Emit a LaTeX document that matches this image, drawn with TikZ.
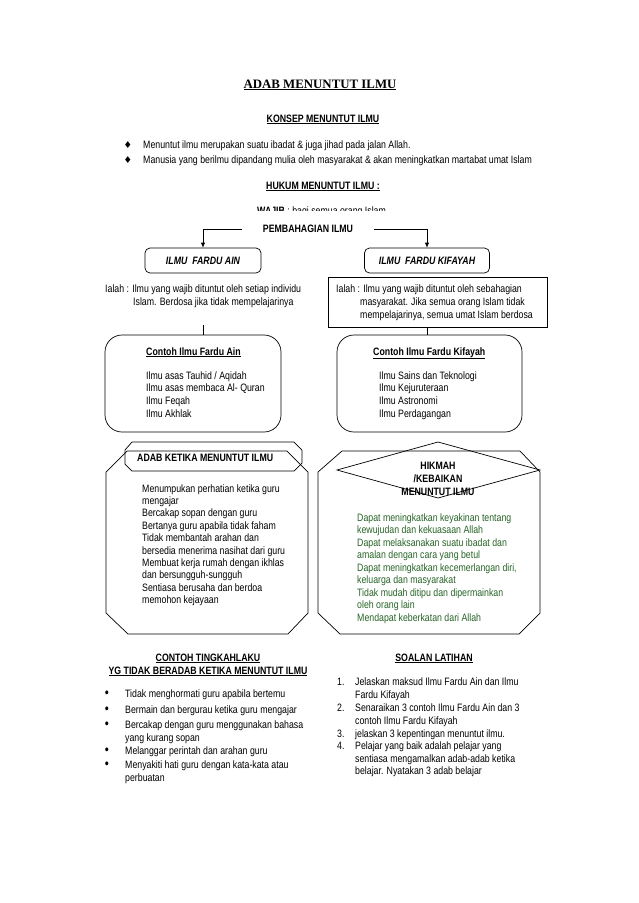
\documentclass[tikz,border=0pt]{standalone}
\usepackage{fontspec}
\setmainfont{Liberation Sans}[FakeStretch=0.82]
\newfontfamily\titlefont{Liberation Serif}
\newfontfamily\symfont{DejaVu Sans}
\usetikzlibrary{arrows.meta}
\definecolor{hgreen}{RGB}{40,100,40}
\begin{document}
\begin{tikzpicture}[x=1pt,y=-1pt,
  txt/.style={inner sep=0pt,anchor=base west,font=\fontsize{10.7}{12.6}\selectfont},
  ctxt/.style={txt,anchor=base},
  hd/.style={ctxt,font=\fontsize{10.7}{12.6}\selectfont\bfseries},
  ln/.style={line width=0.7pt,black},
  arr/.style={ln,-{Latex[length=5pt,width=4.5pt]}},
  rbox/.style={ln,draw,rounded corners=5pt,inner sep=0pt,font=\fontsize{10.7}{12.6}\selectfont\bfseries\itshape},
  cbox/.style={ln,draw,rounded corners=17pt,inner sep=0pt},
  gtxt/.style={txt,text=hgreen},
  dmd/.style={inner sep=0pt,font=\symfont\fontsize{9.5}{9.5}\selectfont},
  blt/.style={inner sep=0pt,anchor=base,font=\fontsize{14}{14}\selectfont}
]
\fill[white] (0,0) rectangle (638,903);
\useasboundingbox (0,0) rectangle (638,903);

% title
\node[inner sep=0pt,anchor=base,font=\titlefont\fontsize{12.86}{14}\selectfont\bfseries] (title) at (320,88) {\underline{ADAB MENUNTUT ILMU}};
\node[hd] (konsep) at (323,122) {\underline{KONSEP MENUNTUT ILMU}};
\node[dmd] (d1) at (128,145) {♦};
\node[txt] (b1) at (143,148) {Menuntut ilmu merupakan suatu ibadat \& juga jihad pada jalan Allah.};
\node[dmd] (d2) at (128,160) {♦};
\node[txt] (b2) at (143,163) {Manusia yang berilmu dipandang mulia oleh masyarakat \& akan meningkatkan martabat umat Islam};
\node[hd] (hukum) at (323,189) {\underline{HUKUM MENUNTUT ILMU :}};
\begin{scope}
\clip (200,195) rectangle (460,210.3);
\node[txt] (wajib) at (257,214) {\textbf{WAJIB} : bagi semua orang Islam};
\end{scope}

% pembahagian
\node[hd,anchor=center,inner xsep=21pt,inner ysep=0pt] (pemb) at (308,229) {PEMBAHAGIAN ILMU};
\node[rbox,minimum width=116pt,minimum height=25pt] (ain) at (203,260.5) {ILMU\ \ FARDU AIN};
\node[rbox,minimum width=125pt,minimum height=25pt] (kif) at (427,260.5) {ILMU\ \ FARDU KIFAYAH};
\draw[arr] (pemb.west) -| (ain.north);
\draw[arr] (pemb.east) -| (kif.north);

% definitions
\node[txt] (dl1) at (105,292) {Ialah : Ilmu yang wajib dituntut oleh setiap individu};
\node[txt] (dl2) at (133,305) {Islam. Berdosa jika tidak mempelajarinya};
\node[ln,draw,minimum width=219pt,minimum height=50pt,inner sep=0pt] (kifdef) at (437.5,302) {};
\node[txt] (dr1) at (336,292) {Ialah : Ilmu yang wajib dituntut oleh sebahagian};
\node[txt] (dr2) at (360,305) {masyarakat. Jika semua orang Islam tidak};
\node[txt] (dr3) at (360,318) {mempelajarinya, semua umat Islam berdosa};

% contoh boxes
\node[cbox,minimum width=176pt,minimum height=97pt] (cain) at (193,383.5) {};
\node[cbox,minimum width=185pt,minimum height=97pt] (ckif) at (429.5,383.5) {};
\coordinate (ainline) at (203,325);
\draw[ln] (ainline) -- (ainline |- cain.north);
\draw[ln] (kifdef.south -| kif.south) -- (kif.south |- ckif.north);

\node[txt,font=\fontsize{10.7}{12.6}\selectfont\bfseries] (cat) at (146,355) {\underline{Contoh Ilmu Fardu Ain}};
\foreach \t [count=\i from 0] in {Ilmu asas Tauhid / Aqidah, Ilmu asas membaca Al- Quran, Ilmu Feqah, Ilmu Akhlak}
  \node[txt] (ca\i) at (146,{379+12.7*\i}) {\t};
\node[txt,font=\fontsize{10.7}{12.6}\selectfont\bfseries] (ckt) at (373,355) {\underline{Contoh Ilmu Fardu Kifayah}};
\foreach \t [count=\i from 0] in {Ilmu Sains dan Teknologi, Ilmu Kejuruteraan, Ilmu Astronomi, Ilmu Perdagangan}
  \node[txt] (ck\i) at (379,{379+12.7*\i}) {\t};

% adab octagon
\draw[ln] (127,451) -- (287,451) -- (308,472) -- (308,613) -- (288,634) -- (128,634) -- (106,613) -- (106,472) -- cycle;
\draw[ln] (132,442) -- (294,442) -- (302,450) -- (302,463) -- (294,471) -- (132,471) -- (125,464) -- (125,450) -- cycle;
\node[txt,font=\fontsize{10.7}{12.6}\selectfont\bfseries] (adabt) at (137,461) {ADAB KETIKA MENUNTUT ILMU};
\foreach \t [count=\i from 0] in {Menumpukan perhatian ketika guru, mengajar, Bercakap sopan dengan guru, Bertanya guru apabila tidak faham, Tidak membantah arahan dan, bersedia menerima nasihat dari guru, Membuat kerja rumah dengan ikhlas, dan bersungguh-sungguh, Sentiasa berusaha dan berdoa, memohon kejayaan}
  \node[txt] (ad\i) at (142,{492+12.4*\i}) {\t};

% hikmah octagon
\draw[ln] (342,451) -- (520,451) -- (540,472) -- (540,613) -- (519,634) -- (340,634) -- (318,613) -- (318,472) -- cycle;
\draw[ln] (337,470) -- (438,442) -- (540,470) -- (438,498) -- cycle;
\node[hd] (hk1) at (438,469) {HIKMAH};
\node[hd] (hk2) at (438,482) {/KEBAIKAN};
\node[hd] (hk3) at (438,495) {MENUNTUT ILMU};
\foreach \t [count=\i from 0] in {Dapat meningkatkan keyakinan tentang, kewujudan dan kekuasaan Allah, Dapat melaksanakan suatu ibadat dan, amalan dengan cara yang betul, {Dapat meningkatkan kecemerlangan diri,}, keluarga dan masyarakat, Tidak mudah ditipu dan dipermainkan, oleh orang lain, Mendapat keberkatan dari Allah}
  \node[gtxt] (hg\i) at (357,{521+12.5*\i}) {\t};

% contoh tingkahlaku
\node[hd] (ct1) at (208,661) {\underline{CONTOH TINGKAHLAKU}};
\node[hd] (ct2) at (208,674) {\underline{YG TIDAK BERADAB KETIKA MENUNTUT ILMU}};
\foreach \y/\b/\t in {697/1/Tidak menghormati guru apabila bertemu, 713/1/Bermain dan bergurau ketika guru mengajar, 728/1/Bercakap dengan guru menggunakan bahasa, 741/0/yang kurang sopan, 754/1/Melanggar perintah dan arahan guru, 768/1/Menyakiti hati guru dengan kata-kata atau, 781/0/perbuatan}{
  \node[txt] (tl\y) at (125,\y) {\t};
  \ifnum\b=1 \node[blt] (bl\y) at (107,{\y+0.5}) {•}; \fi
}

% soalan
\node[hd] (soal) at (434,661) {\underline{SOALAN LATIHAN}};
\foreach \y/\n/\t in {685/1./Jelaskan maksud Ilmu Fardu Ain dan Ilmu, 698//Fardu Kifayah, 711/2./Senaraikan 3 contoh Ilmu Fardu Ain dan 3, 724//contoh Ilmu Fardu Kifayah, 737/3./jelaskan 3 kepentingan menuntut ilmu., 749/4./Pelajar yang baik adalah pelajar yang, 762//sentiasa mengamalkan adab-adab ketika, 774//belajar. Nyatakan 3 adab belajar}{
  \node[txt] (sq\y) at (355,\y) {\t};
  \node[txt] (sn\y) at (337,\y) {\n};
}
\end{tikzpicture}
\end{document}
